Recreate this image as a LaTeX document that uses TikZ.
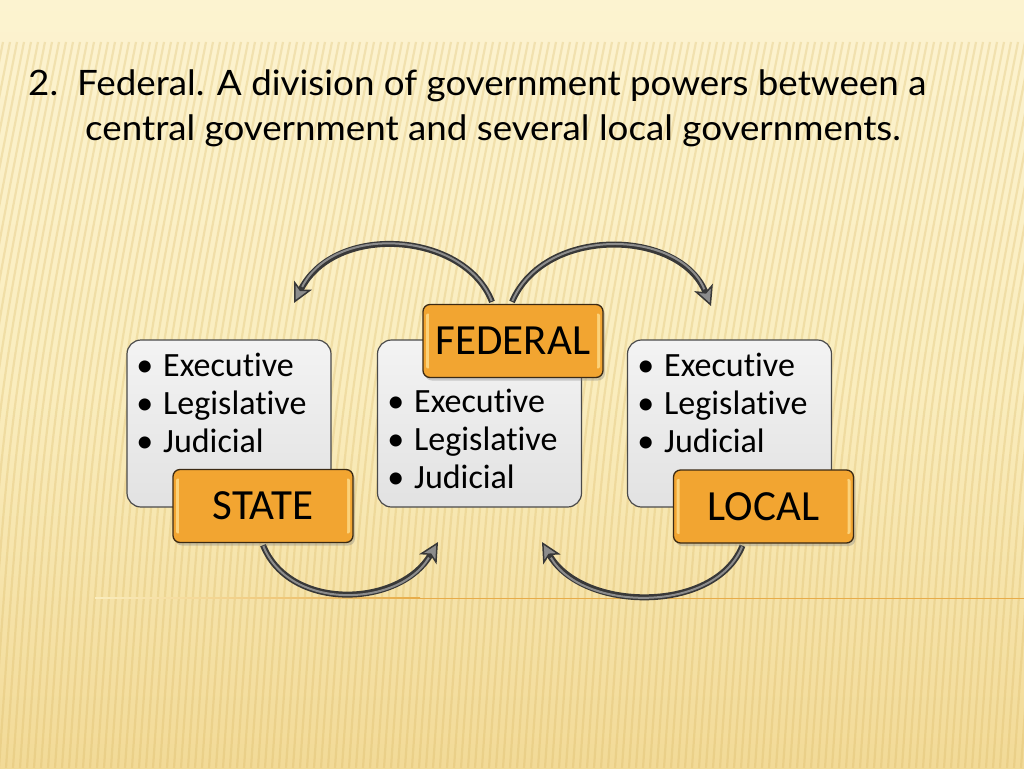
\documentclass[tikz,border=0pt]{standalone}
\usepackage{fontspec}
\setmainfont{Carlito}[Ligatures=CommonOff]
\newfontfamily\titlefont{Lato}[Ligatures=CommonOff]
\newfontfamily\boxfont{Carlito}[Ligatures=CommonOff]
\usetikzlibrary{arrows.meta,shadows,calc}
\definecolor{bgtop}{HTML}{FCF3D0}
\definecolor{bgmid}{HTML}{FAEDBE}
\definecolor{bgbot}{HTML}{F2DA97}
\definecolor{stripe}{HTML}{D8B560}
\definecolor{orng}{HTML}{F2A531}
\definecolor{orlight}{HTML}{FCD27A}
\definecolor{obrd}{HTML}{3B2A14}
\definecolor{gtop}{HTML}{F3F3F3}
\definecolor{gbot}{HTML}{E2E2E2}
\definecolor{gbrd}{HTML}{4A4A4A}
\definecolor{adark}{HTML}{383838}
\definecolor{ain}{HTML}{8C8C8C}
\definecolor{hline}{HTML}{E8AC48}
\pgfdeclarelayer{bg}
\pgfdeclarelayer{mid}
\pgfsetlayers{bg,mid,main}
\newcommand\bul{\llap{•\hspace{10pt}}}
\tikzset{
  graybox/.style={draw=gbrd, line width=1.2pt, rounded corners=14pt,
    top color=gtop, bottom color=gbot, minimum width=204pt, minimum height=167pt, inner sep=0pt},
  orangebox/.style={draw=obrd, line width=1.3pt, rounded corners=7pt, fill=orng,
    minimum width=180pt, minimum height=73pt, inner sep=0pt,
    font=\boxfont\fontsize{43}{43}\selectfont,
    drop shadow={shadow xshift=2pt, shadow yshift=-3pt, opacity=0.35},
    path picture={
      \fill[orlight, rounded corners=2pt] ([xshift=3pt,yshift=-9pt]path picture bounding box.north west) rectangle ([xshift=7pt,yshift=9pt]path picture bounding box.south west);
      \fill[orlight, rounded corners=2pt] ([xshift=-3pt,yshift=-9pt]path picture bounding box.north east) rectangle ([xshift=-7pt,yshift=9pt]path picture bounding box.south east);
      \fill[orng] ([xshift=6pt,yshift=-4pt]path picture bounding box.north west) rectangle ([xshift=-6pt,yshift=4pt]path picture bounding box.south east);
    }},
  item/.style={font=\boxfont\fontsize{34}{34}\selectfont, inner sep=0pt, anchor=base west},
  ttl/.style={font=\titlefont\fontsize{35}{35}\selectfont, inner sep=0pt, anchor=base west},
  cyc/.style={draw=adark, line width=6pt, -{Stealth[length=20pt,width=20pt,inset=5pt,fill=ain,line width=1.5pt]}},
  cycin/.style={draw=ain, line width=2pt, shorten >=18pt, shorten <=1pt},
}
\begin{document}
\begin{tikzpicture}[x=1pt,y=-1pt]
\useasboundingbox (0,0) rectangle (1024,768);
\begin{pgfonlayer}{bg}
  \shade[top color=bgtop, bottom color=bgbot, middle color=bgmid] (0,0) rectangle (1024,768);
  \foreach \x in {-120,-113,...,1100} {
    \draw[stripe, opacity=0.28, line width=2.2pt] (\x+95,42) .. controls (\x+25,400) .. (\x,768);
  }
  \shade[left color=bgmid, right color=hline] (95,597.5) rectangle (420,598.6);
  \fill[hline] (420,597.5) rectangle (1024,598.6);
\end{pgfonlayer}

% title
\node[ttl] (t1a) at (28,95) {\scalebox{1.05}[1]{2.}};
\node[ttl] (t1b) at (77,95) {\scalebox{1.05}[1]{Federal. A division of government powers between a}};
\node[ttl] (t2) at (85,140) {\scalebox{1.05}[1]{central government and several local governments.}};

% gray boxes
\begin{pgfonlayer}{mid}
\node[graybox] (gl) at (229,423.5) {};
\node[graybox] (gm) at (479.5,423.5) {};
\node[graybox] (gr) at (729.5,423.5) {};
\end{pgfonlayer}

\node[item] (l1) at (163,376) {\bul Executive};
\node[item] (l2) at (163,414) {\bul Legislative};
\node[item] (l3) at (163,452) {\bul Judicial};
\node[item] (m1) at (414,412) {\bul Executive};
\node[item] (m2) at (414,450) {\bul Legislative};
\node[item] (m3) at (414,488) {\bul Judicial};
\node[item] (r1) at (664,376) {\bul Executive};
\node[item] (r2) at (664,414) {\bul Legislative};
\node[item] (r3) at (664,452) {\bul Judicial};

% orange boxes
\node[orangebox] (fed) at (513,341) {FEDERAL};
\node[orangebox] (state) at (263,506) {STATE};
\node[orangebox] (local) at (763.5,506.5) {LOCAL};

\coordinate (e1) at (294,303);
\coordinate (e2) at (711,306);
\coordinate (e3) at (438,542);
\coordinate (e4) at (542,542);

\begin{pgfonlayer}{mid}
\draw[cyc] ([xshift=-21pt,yshift=2pt]fed.north) .. controls (465,232) and (335,222) .. (e1);
\draw[cycin] ([xshift=-21pt,yshift=2pt]fed.north) .. controls (465,232) and (335,222) .. (e1);
\draw[cyc] ([xshift=-1pt,yshift=2pt]fed.north) .. controls (545,225) and (680,229) .. (e2);
\draw[cycin] ([xshift=-1pt,yshift=2pt]fed.north) .. controls (545,225) and (680,229) .. (e2);
\draw[cyc] ([yshift=-2pt]state.south) .. controls (290,612) and (400,607) .. (e3);
\draw[cycin] ([yshift=-2pt]state.south) .. controls (290,612) and (400,607) .. (e3);
\draw[cyc] ([xshift=-21pt,yshift=-2pt]local.south) .. controls (715,614) and (582,612) .. (e4);
\draw[cycin] ([xshift=-21pt,yshift=-2pt]local.south) .. controls (715,614) and (582,612) .. (e4);
\end{pgfonlayer}
\end{tikzpicture}
\end{document}
